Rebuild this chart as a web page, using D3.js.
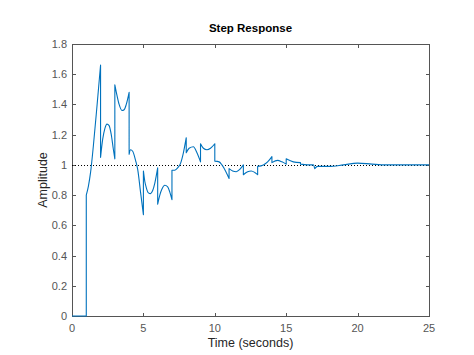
<!DOCTYPE html>
<html>
<head>
<meta charset="utf-8">
<script src="https://cdn.jsdelivr.net/npm/d3@7"></script>
<style>
  html, body { margin: 0; padding: 0; background: #fff; }
  svg { display: block; font-family: "Liberation Sans", Arial, Helvetica, sans-serif; }
</style>
</head>
<body>
<svg id="chart" width="474" height="355"></svg>
<script>
// ---- data ----
const titleText = "Step Response";
const xLabelText = "Time (seconds)";
const yLabelText = "Amplitude";
const xTicks = [0, 5, 10, 15, 20, 25];
const yTicks = [0, 0.2, 0.4, 0.6, 0.8, 1, 1.2, 1.4, 1.6, 1.8];
const steadyState = 1;

// step response, stored as smooth pieces separated by jumps
const segTimes = [
  [0, 1],
  [1, 1.15, 1.3, 1.5, 1.75, 2],
  [2, 2.15, 2.3, 2.45, 2.6, 2.75, 2.9, 3],
  [3, 3.15, 3.3, 3.5, 3.65, 3.8, 4],
  [4, 4.1, 4.25, 4.45, 4.6, 4.8, 5],
  [5, 5.1, 5.2, 5.35, 5.5, 5.65, 5.8, 6],
  [6, 6.15, 6.3, 6.5, 6.7, 6.85, 7],
  [7, 7.2, 7.4, 7.6, 7.8, 8],
  [8, 8.2, 8.5, 8.75, 9],
  [9, 9.2, 9.45, 9.7, 10],
  [10, 10.3, 10.5, 10.75, 11],
  [11, 11.25, 11.5, 11.75, 12],
  [12, 12.3, 12.55, 12.8, 13],
  [13, 13.4, 13.7, 14],
  [14, 14.4, 14.7, 15],
  [15, 15.5, 16],
  [16, 16.5, 16.9, 17],
  [17, 17.2, 18, 19, 20, 21, 22, 25]
];
const segValues = [
  [0, 0],
  [0.8, 0.86, 0.95, 1.13, 1.39, 1.66],
  [1.05, 1.17, 1.24, 1.27, 1.26, 1.2, 1.1, 1.04],
  [1.53, 1.46, 1.4, 1.36, 1.365, 1.4, 1.48],
  [1.07, 1.1, 1.09, 1.03, 0.97, 0.82, 0.67],
  [0.96, 0.89, 0.85, 0.815, 0.81, 0.83, 0.88, 0.98],
  [0.74, 0.8, 0.84, 0.865, 0.855, 0.82, 0.77],
  [0.965, 0.965, 0.98, 1.01, 1.08, 1.18],
  [1.08, 1.11, 1.12, 1.08, 1.02],
  [1.14, 1.11, 1.1, 1.11, 1.14],
  [1.025, 1.02, 1.0, 0.96, 0.91],
  [0.975, 0.96, 0.955, 0.97, 1.0],
  [0.935, 0.955, 0.96, 0.95, 0.935],
  [0.99, 1.0, 1.02, 1.055],
  [1.015, 1.03, 1.02, 1.005],
  [1.04, 1.02, 1.015],
  [1.005, 1.0, 1.0, 0.975],
  [0.975, 0.99, 0.99, 1.0, 1.012, 1.005, 1.0, 1.0]
];

// ---- layout ----
const svg = d3.select("#chart");
const mL = 72, mR = 429, mT = 44, mB = 316;
const x = d3.scaleLinear().domain([0, 25]).range([mL, mR]);
const y = d3.scaleLinear().domain([0, 1.8]).range([mB, mT]);

const axisColor = "#555555";
const textColor = "#555555";
const tickLen = 3.5;

// box
svg.append("rect")
  .attr("x", mL + 0.5).attr("y", mT + 0.5)
  .attr("width", mR - mL).attr("height", mB - mT)
  .attr("fill", "none").attr("stroke", axisColor).attr("stroke-width", 1);

// ticks (inside, on all four sides)
const gT = svg.append("g").attr("stroke", axisColor).attr("stroke-width", 1);
xTicks.forEach(t => {
  const px = Math.round(x(t)) + 0.5;
  gT.append("line").attr("x1", px).attr("x2", px).attr("y1", mB + 0.5).attr("y2", mB + 0.5 - tickLen);
  gT.append("line").attr("x1", px).attr("x2", px).attr("y1", mT + 0.5).attr("y2", mT + 0.5 + tickLen);
});
yTicks.forEach(v => {
  const py = Math.round(y(v)) + 0.5;
  gT.append("line").attr("x1", mL + 0.5).attr("x2", mL + 0.5 + tickLen).attr("y1", py).attr("y2", py);
  gT.append("line").attr("x1", mR + 0.5).attr("x2", mR + 0.5 - tickLen).attr("y1", py).attr("y2", py);
});

// tick labels
svg.append("g").selectAll("text").data(xTicks).join("text")
  .attr("x", d => x(d)).attr("y", mB + 16)
  .attr("text-anchor", "middle").attr("font-size", 11).attr("fill", textColor)
  .text(d => d);
svg.append("g").selectAll("text").data(yTicks).join("text")
  .attr("x", mL - 5).attr("y", d => y(d) + 4)
  .attr("text-anchor", "end").attr("font-size", 11).attr("fill", textColor)
  .text(d => String(+d.toFixed(1)));

// steady-state dotted line
svg.append("line")
  .attr("x1", x(0)).attr("x2", x(25))
  .attr("y1", Math.round(y(steadyState)) + 0.5).attr("y2", Math.round(y(steadyState)) + 0.5)
  .attr("stroke", "#000").attr("stroke-width", 1).attr("stroke-dasharray", "1,2");

// response curve
const smooth = d3.line().x(d => x(d[0])).y(d => y(d[1])).curve(d3.curveMonotoneX);
let pathD = "";
segTimes.forEach((ts, i) => {
  const pts = ts.map((t, j) => [t, segValues[i][j]]);
  const d = smooth(pts);
  pathD += (i === 0) ? d : "L" + d.slice(1);
});
svg.append("path")
  .attr("d", pathD)
  .attr("fill", "none").attr("stroke", "#0072BD").attr("stroke-width", 1.1)
  .attr("stroke-linejoin", "round");

// title and labels
svg.append("text").attr("x", (mL + mR) / 2).attr("y", 32)
  .attr("text-anchor", "middle").attr("font-size", 11.5).attr("font-weight", "bold").attr("fill", "#000")
  .text(titleText);
svg.append("text").attr("x", (mL + mR) / 2).attr("y", 347)
  .attr("text-anchor", "middle").attr("font-size", 12.5).attr("fill", "#262626")
  .text(xLabelText);
svg.append("text")
  .attr("transform", `translate(47,${(mT + mB) / 2}) rotate(-90)`)
  .attr("text-anchor", "middle").attr("font-size", 12.5).attr("fill", "#262626")
  .text(yLabelText);
</script>
</body>
</html>
